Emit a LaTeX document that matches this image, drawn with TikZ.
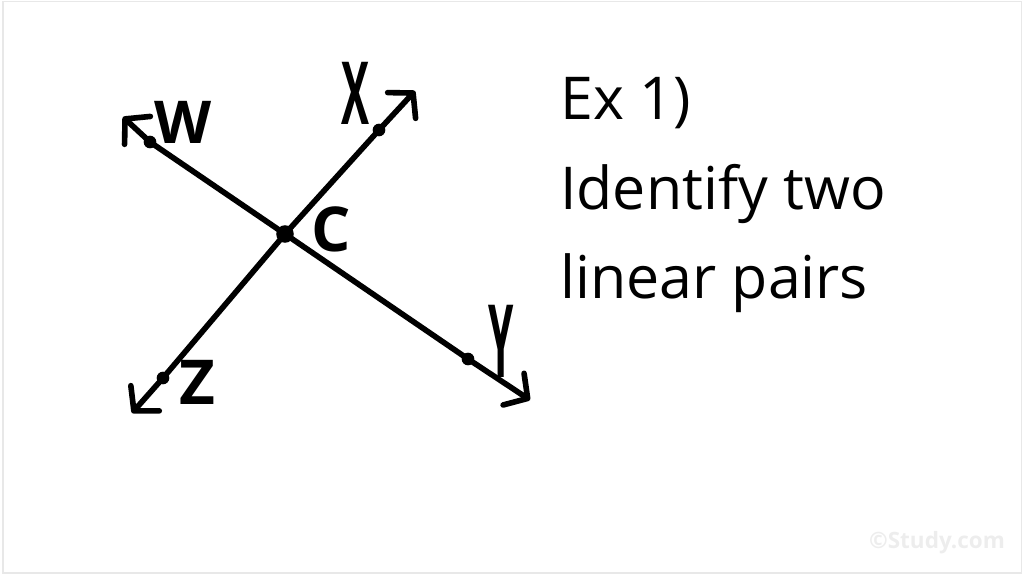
\documentclass[tikz,border=0pt]{standalone}
\usepackage{fontspec}
\usepackage{graphicx}
\setmainfont{Open Sans}
\usetikzlibrary{arrows.meta,positioning}

\begin{document}
\begin{tikzpicture}[x=0.025cm,y=-0.025cm,
    barb/.tip={Straight Barb[length=12pt,width=27pt,line cap=round,line join=round]},
    ray/.style={line width=4pt,line cap=round,line join=round,barb-barb},
    dot/.style={circle,fill,inner sep=0pt,minimum size=#1},
    dot/.default=9pt,
    lbl/.style={inner sep=0pt,font=\fontsize{#1}{#1}\selectfont\bfseries}]
  \useasboundingbox (0,0) rectangle (1024,576);
  \draw[black!9,line width=1.2pt] (3,1.5) rectangle (1021.5,573);

  % points on the two lines
  \node[dot=12.5pt] (C) at (285,234) {};
  \foreach \name/\x/\y in {W/150/142,X/379/130,Y/468/359,Z/163/378}
    \node[dot] (\name) at (\x,\y) {};

  % free ends of the rays
  \coordinate (Wtip) at (123,117);
  \coordinate (Xtip) at (415,91);
  \coordinate (Ytip) at (530,400);
  \coordinate (Ztip) at (132,413);

  \draw[ray] (Wtip) -- (W.center) -- (C.center) -- (Y.center) -- (Ytip);
  \draw[ray] (Ztip) -- (Z.center) -- (C.center) -- (X.center) -- (Xtip);

  % letters
  \node[lbl=42] (lW) at (183,122) {W};
  \node[lbl=62] (lX) at (355,93) {\scalebox{.48}[1]{X}};
  \node[lbl=44] (lC) at (331,229) {C};
  \node[lbl=72] (lY) at (501,341) {\scalebox{.4}[1]{Y}};
  \node[lbl=44] (lZ) at (197,382) {Z};

  \node[anchor=base west,align=left,inner sep=0pt,
        font=\fontsize{42}{64}\selectfont] (ex) at (560,299)
    {Ex 1)\\Identify two\\linear pairs};

  \node[text=black!7,font=\fontsize{16}{16}\selectfont\bfseries] (wm) at (937,543) {©Study.com};
\end{tikzpicture}
\end{document}
